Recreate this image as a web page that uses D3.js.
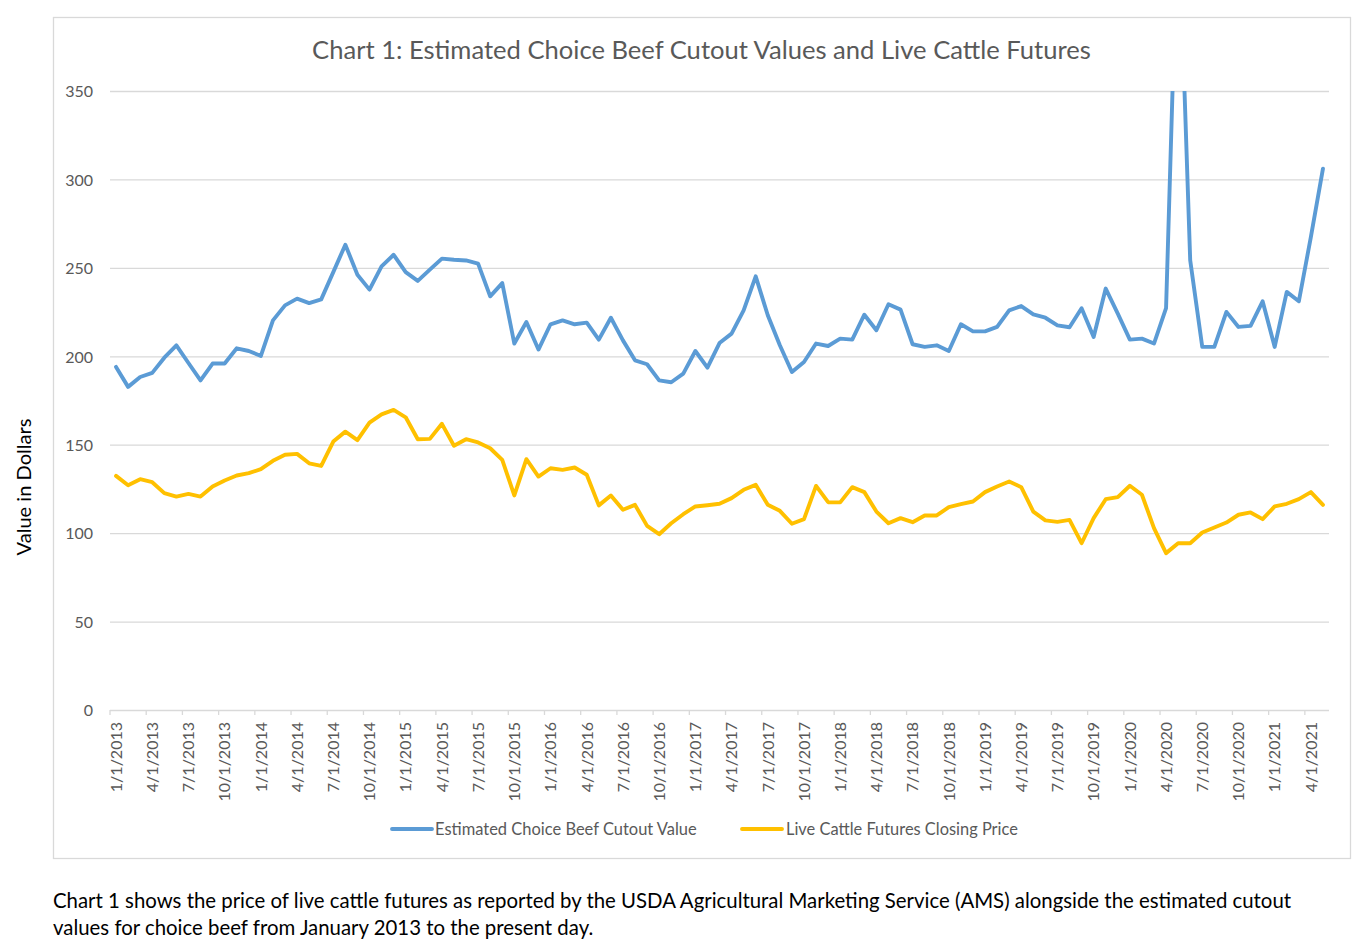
<!DOCTYPE html>
<html>
<head>
<meta charset="utf-8">
<script src="https://cdn.jsdelivr.net/npm/d3@7"></script>
<style>
  body { margin: 0; background: #fff; }
  svg text { font-family: Lato, "Open Sans", sans-serif; }
</style>
</head>
<body>
<div id="wrapper"></div>
<script>
// monthly categories, 1/1/2013 .. 5/1/2021
const months = d3.timeMonth.range(new Date(2013, 0, 1), new Date(2021, 5, 1))
const formatMonth = d3.timeFormat("%-m/%-d/%Y")
const categories = months.map(formatMonth)

const cutoutValues = [
  194, 182.7, 188.3, 190.6, 199.2, 206.2, 196.2, 186.4, 195.9, 195.9, 204.5, 203,
  200.2, 220.3, 228.8, 232.6, 230.1, 232.2, 247.6, 263.1, 246.1, 237.7, 250.8, 257.4,
  247.6, 242.6, 249, 255.2, 254.6, 254.2, 252.4, 233.9, 241.4, 207.2, 219.4, 203.8,
  218.1, 220.3, 218.1, 219, 209.4, 221.8, 209, 197.7, 195.5, 186.4, 185.3, 190.2,
  203, 193.6, 207.5, 212.8, 226, 245.2, 223.2, 206.2, 191.1, 196.8, 207.2, 205.8,
  210, 209.4, 223.5, 214.7, 229.4, 226.4, 206.8, 205.3, 206.2, 203, 218.1, 214.1,
  214.1, 216.6, 226, 228.4, 223.7, 221.8, 217.5, 216.4, 227.2, 210.9, 238.3, 224.1,
  209.4, 210, 207.2, 227.3, 457, 254.3, 205.3, 205.3, 225.1, 216.6, 217.2, 231.1,
  205.3, 236.4, 231.1, 267.5, 306.1
]

const cattleFutures = [
  132.4, 127.1, 130.5, 128.8, 122.6, 120.7, 122.2, 120.7, 126.4, 129.8, 132.6, 133.9,
  136.2, 140.9, 144.3, 144.8, 139.5, 138, 151.8, 157.4, 152.6, 162.5, 167.2, 169.7,
  165.5, 153.1, 153.3, 161.8, 149.4, 153.1, 151.3, 148, 141.4, 121.3, 141.8, 132,
  136.7, 135.8, 137.1, 133, 115.7, 121.3, 113.2, 116, 104.1, 99.4, 105.6, 110.7,
  115.1, 115.8, 116.6, 119.8, 124.5, 127.3, 116, 112.6, 105.3, 107.9, 126.7, 117.5,
  117.4, 126, 123.2, 112.2, 105.6, 108.5, 106.2, 110, 110, 114.7, 116.4, 117.9,
  123.2, 126.4, 129.2, 126, 112.2, 107.2, 106.4, 107.5, 94.3, 108.5, 119.2, 120.4,
  126.8, 121.7, 102.8, 88.7, 94.3, 94.3, 100.4, 103.2, 106, 110.4, 111.7, 107.9,
  115.1, 116.6, 119.2, 123.2, 116
]

const yTicks = [0, 50, 100, 150, 200, 250, 300, 350]
const xTickLabels = categories.filter((d, i) => i % 3 == 0)
const seriesNames = ["Estimated Choice Beef Cutout Value", "Live Cattle Futures Closing Price"]
const seriesColors = ["#5B9BD5", "#FFC000"]

const titleText = "Chart 1: Estimated Choice Beef Cutout Values and Live Cattle Futures"
const yTitleText = "Value in Dollars"
const captionLines = [
  "Chart 1 shows the price of live cattle futures as reported by the USDA Agricultural Marketing Service (AMS) alongside the estimated cutout",
  "values for choice beef from January 2013 to the present day."
]

let dimensions = {
  width: 1366,
  height: 948,
  box: { left: 53, top: 17, right: 1350, bottom: 858 },
  plot: { left: 110, top: 91, right: 1329, bottom: 710 },
}

const gray = "#595959"
const gridColor = "#d9d9d9"

// scale a text's font size so that it spans targetWidth
function fitText(sel, targetWidth) {
  sel.style("font-size", "20px")
  const w = sel.node().getComputedTextLength()
  const size = 20 * targetWidth / w
  sel.style("font-size", size + "px")
  return size
}

const wrapper = d3.select("#wrapper")
  .append("svg")
  .attr("width", dimensions.width)
  .attr("height", dimensions.height)

wrapper.append("rect")
  .attr("x", dimensions.box.left + 0.5)
  .attr("y", dimensions.box.top + 0.5)
  .attr("width", dimensions.box.right - dimensions.box.left)
  .attr("height", dimensions.box.bottom - dimensions.box.top)
  .attr("fill", "white")
  .attr("stroke", gridColor)
  .attr("stroke-width", 1.3)

const xScale = d3.scaleBand()
  .domain(categories)
  .range([dimensions.plot.left, dimensions.plot.right])

const yScale = d3.scaleLinear()
  .domain([0, 350])
  .range([dimensions.plot.bottom, dimensions.plot.top])

const xCenter = (d, i) => xScale(categories[i]) + xScale.bandwidth() / 2

// y axis + gridlines
const yAxis = wrapper.append("g")
  .attr("transform", `translate(${dimensions.plot.left},0)`)
  .call(d3.axisLeft(yScale)
    .tickValues(yTicks)
    .tickSize(-(dimensions.plot.right - dimensions.plot.left))
    .tickPadding(17))
yAxis.select(".domain").remove()
yAxis.selectAll("line")
  .attr("stroke", gridColor)
  .attr("stroke-width", 1.3)
yAxis.selectAll("text")
  .attr("fill", gray)
  .style("font-size", "16px")
  .attr("dy", "0.36em")

// x axis
const xAxis = wrapper.append("g")
  .attr("transform", `translate(0,${dimensions.plot.bottom})`)
  .call(d3.axisBottom(xScale)
    .tickValues(xTickLabels)
    .tickSize(0))
xAxis.select(".domain").remove()
xAxis.selectAll("text")
  .attr("fill", gray)
  .style("font-size", "16px")
  .attr("transform", "rotate(-90)")
  .attr("text-anchor", "end")
  .attr("x", -12)
  .attr("y", 0)
  .attr("dy", "0.36em")

// tick marks sit between categories
xAxis.selectAll(".boundary")
  .data(xTickLabels)
  .enter().append("line")
  .attr("class", "boundary")
  .attr("x1", d => xScale(d))
  .attr("x2", d => xScale(d))
  .attr("y1", 0)
  .attr("y2", 5)
  .attr("stroke", gridColor)
  .attr("stroke-width", 1.3)

// lines, clipped to the plot area (the May 2020 spike runs off the top)
wrapper.append("clipPath")
  .attr("id", "plot-clip")
  .append("rect")
  .attr("x", dimensions.plot.left)
  .attr("y", dimensions.plot.top)
  .attr("width", dimensions.plot.right - dimensions.plot.left)
  .attr("height", dimensions.plot.bottom - dimensions.plot.top)

const lineGenerator = d3.line()
  .x(xCenter)
  .y(d => yScale(d))

const lines = wrapper.append("g")
  .attr("clip-path", "url(#plot-clip)")

;[cutoutValues, cattleFutures].forEach((series, k) => {
  lines.append("path")
    .attr("d", lineGenerator(series))
    .attr("fill", "none")
    .attr("stroke", seriesColors[k])
    .attr("stroke-width", 3.9)
    .attr("stroke-linejoin", "round")
    .attr("stroke-linecap", "round")
})

// title
const title = wrapper.append("text")
  .attr("x", 701.5)
  .attr("y", 59)
  .attr("text-anchor", "middle")
  .attr("fill", gray)
  .text(titleText)
fitText(title, 779)

// y axis title
const yTitle = wrapper.append("text")
  .attr("transform", "translate(24,487) rotate(-90)")
  .attr("text-anchor", "middle")
  .attr("dy", "0.36em")
  .attr("fill", "black")
  .text(yTitleText)
fitText(yTitle, 137)

// legend
const legendItems = [
  { x1: 392, x2: 432, tx: 435, width: 262 },
  { x1: 742, x2: 782, tx: 786, width: 232 },
]
const legend = wrapper.append("g")
legendItems.forEach((item, k) => {
  legend.append("line")
    .attr("x1", item.x1)
    .attr("x2", item.x2)
    .attr("y1", 829)
    .attr("y2", 829)
    .attr("stroke", seriesColors[k])
    .attr("stroke-width", 3.9)
    .attr("stroke-linecap", "round")
  const t = legend.append("text")
    .attr("x", item.tx)
    .attr("y", 829)
    .attr("dy", "0.36em")
    .attr("fill", gray)
    .text(seriesNames[k])
  fitText(t, item.width)
})

// caption below the chart box
const caption = wrapper.append("g")
const line1 = caption.append("text")
  .attr("x", 53)
  .attr("y", 908)
  .attr("fill", "black")
  .text(captionLines[0])
const captionSize = fitText(line1, 1239)
caption.append("text")
  .attr("x", 53)
  .attr("y", 935)
  .attr("fill", "black")
  .style("font-size", captionSize + "px")
  .text(captionLines[1])
</script>
</body>
</html>
